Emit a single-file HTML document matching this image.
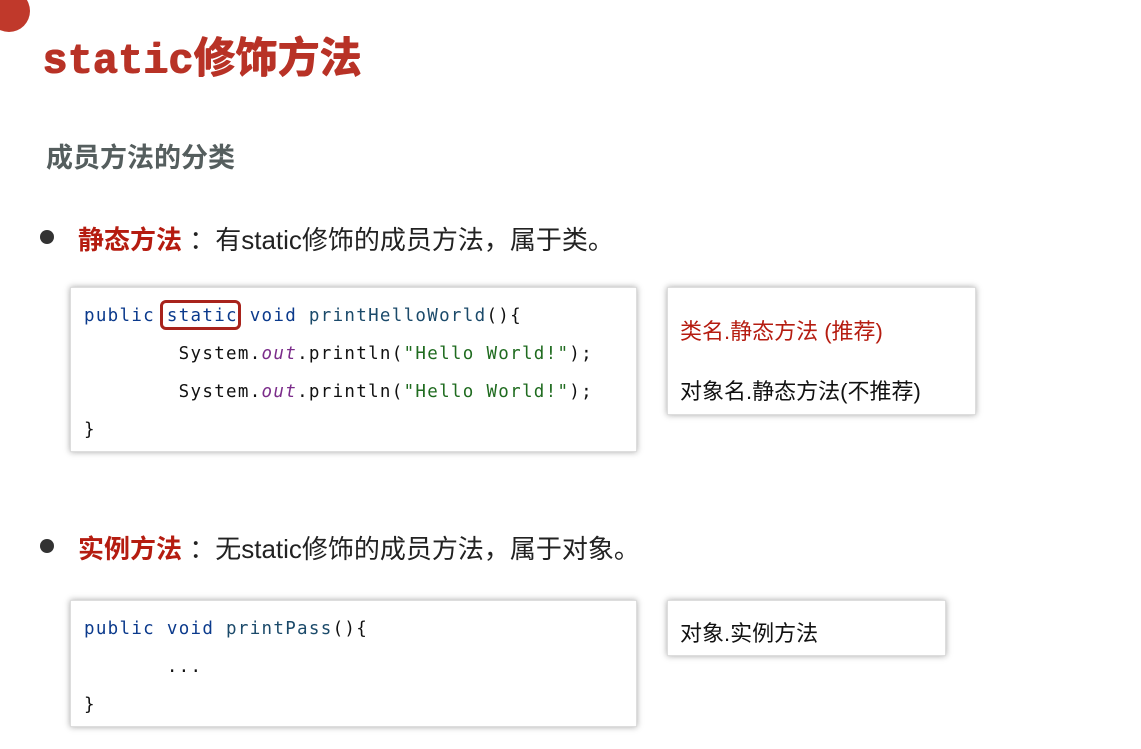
<!DOCTYPE html>
<html><head><meta charset="utf-8"><style>
body{margin:0;width:1141px;height:749px;background:#fff;position:relative;overflow:hidden;font-family:"Liberation Sans","Noto Sans CJK SC",sans-serif}
.a{position:absolute}
.dot{left:-12px;top:-10px;width:42px;height:42px;border-radius:50%;background:#c0392b}
h1{position:absolute;left:42px;top:24px;margin:0;font-size:42px;font-weight:bold;color:#b83226;font-family:"Liberation Mono","Noto Sans CJK SC",monospace;letter-spacing:0px;text-shadow:1px 0 0 #b83226,0 1px 0 #b83226}
.sub{left:46px;top:136px;font-size:27px;font-weight:bold;color:#555e5e}
.bul{width:14px;height:14px;border-radius:50%;background:#333}
.line{font-size:26px;color:#222}
.line b{color:#b51c10}
.box{background:#fff;box-shadow:0 0 6px rgba(0,0,0,.35);border:1px solid #ddd}
.code{font-family:"DejaVu Sans Mono","Liberation Mono",monospace;font-size:17.5px;letter-spacing:1.3px;color:#111;white-space:pre;line-height:38px}
.k{color:#0b3a8c}.f{color:#1b4a6a}.o{color:#7b2c8a;font-style:italic}.s{color:#1f6b1f}
.t{font-size:22px;color:#111}
</style></head><body>
<div class="a dot"></div>
<h1>static修饰方法</h1>
<div class="a sub">成员方法的分类</div>

<div class="a bul" style="left:40px;top:230px"></div>
<div class="a line" style="left:78px;top:220px"><b>静态方法</b> ：有static修饰的成员方法，属于类。</div>
<div class="a box" style="left:70px;top:287px;width:565px;height:163px"></div>
<div class="a code" style="left:84px;top:297px"><span class="k">public</span> <span class="k">static</span> <span class="k">void</span> <span class="f">printHelloWorld</span>(){
        System.<span class="o">out</span>.println(<span class="s">"Hello World!"</span>);
        System.<span class="o">out</span>.println(<span class="s">"Hello World!"</span>);
}</div>
<div class="a" style="left:160px;top:300px;width:81px;height:30px;border:3px solid #a8231c;border-radius:6px;box-sizing:border-box"></div>
<div class="a box" style="left:667px;top:287px;width:307px;height:126px"></div>
<div class="a t" style="left:680px;top:314px;color:#b51c10">类名.静态方法 (推荐)</div>
<div class="a t" style="left:680px;top:374px">对象名.静态方法(不推荐)</div>

<div class="a bul" style="left:40px;top:539px"></div>
<div class="a line" style="left:78px;top:529px"><b>实例方法</b> ：无static修饰的成员方法，属于对象。</div>
<div class="a box" style="left:70px;top:600px;width:565px;height:125px"></div>
<div class="a code" style="left:84px;top:610px"><span class="k">public</span> <span class="k">void</span> <span class="f">printPass</span>(){
       ...
}</div>
<div class="a box" style="left:667px;top:600px;width:277px;height:54px"></div>
<div class="a t" style="left:680px;top:616px">对象.实例方法</div>
</body></html>
